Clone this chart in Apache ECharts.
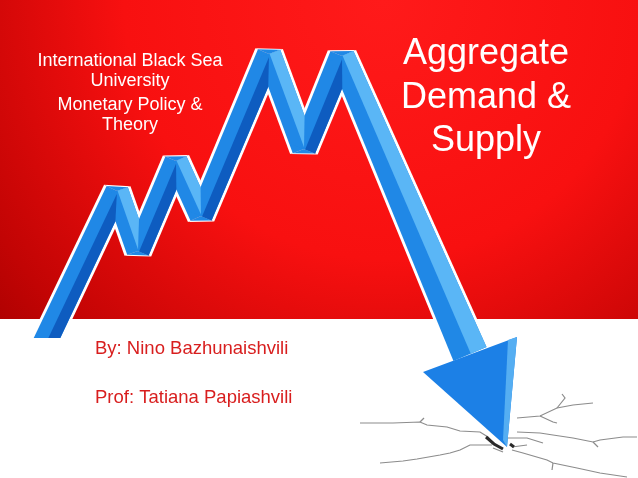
<!DOCTYPE html>
<html><head><meta charset="utf-8">
<script src="https://cdn.jsdelivr.net/npm/echarts@6/dist/echarts.min.js"></script>
<style>html,body{margin:0;padding:0;background:#fff;overflow:hidden}#c{width:638px;height:478px}</style>
</head><body><div id="c"></div>
<script>
// Zig-zag ribbon centre line (picture units: x to the right, y downward)
const pathX = [47, 117, 138, 176, 201, 269, 304, 342, 470];
const pathY = [338, 191, 251, 161, 216, 54, 149, 56, 354];
// Ribbon half-thickness at each vertex (blue part)
const halfW = [12, 11.5, 11.5, 11.5, 11.5, 12, 12, 12.5, 18];
// Arrow head triangle and its light right-hand face
const headX = [423, 517, 507];
const headY = [372, 337, 447];
const headFaceX = [508, 517, 507, 503];
const headFaceY = [340, 337, 447, 440];
// Red band extent
const bandX = [0, 638];
const bandY = [0, 319];
// Cracks in the ground
const crackLines = [
  [[360,423],[393,423],[420,422],[427,425],[447,427],[460,431],[480,432],[488,437],[493,443]],
  [[380,463],[403,461],[417,459],[440,455],[450,453],[460,450],[470,445],[480,445],[492,445]],
  [[517,418],[540,416],[557,408],[573,405],[593,403]],
  [[557,408],[565,398],[562,394]],
  [[540,416],[553,422],[557,423]],
  [[517,432],[540,433],[553,435],[573,438],[593,442],[600,440],[623,437],[637,437]],
  [[512,450],[523,453],[547,460],[553,463],[577,468],[600,473],[627,477]],
  [[553,463],[552,470]],
  [[507,438],[527,438],[543,443]],
  [[512,447],[527,445]],
  [[493,448],[503,452]],
  [[420,422],[424,418]],
  [[593,442],[598,447]]
];
const holeLines = [
  [[486,437],[494,444],[503,449]],
  [[510,444],[514,447]]
];
// Titles
const leftTitle = ['International Black Sea', 'University', 'Monetary Policy &', 'Theory'];
const leftTitleY = [61, 81, 105, 125];
const mainTitle = ['Aggregate', 'Demand &', 'Supply'];
const mainTitleY = [54, 98, 141];
const credits = ['By: Nino Bazhunaishvili', 'Prof: Tatiana Papiashvili'];
const creditsY = [349, 398];

const chart = echarts.init(document.getElementById('c'), null, {renderer: 'canvas'});
const FONT = '"Liberation Sans", Arial, sans-serif';

function dir(a, b) { const dx = b[0]-a[0], dy = b[1]-a[1]; const L = Math.hypot(dx, dy) || 1; return [dx/L, dy/L]; }
function nrm(d) { return [-d[1], d[0]]; }
function add(p, v, s) { return [p[0] + v[0]*s, p[1] + v[1]*s]; }
function miterAt(P, k, o) {
  const nA = nrm(dir(P[k-1], P[k]));
  const nB = nrm(dir(P[k], P[k+1]));
  let m = [nA[0]+nB[0], nA[1]+nB[1]]; const L = Math.hypot(m[0], m[1]) || 1; m = [m[0]/L, m[1]/L];
  const s = o / Math.max(0.2, (m[0]*nA[0] + m[1]*nA[1]));
  return add(P[k], m, s);
}
function pix(api) { return pathX.map((x, k) => api.coord([x, pathY[k]])); }
function scaleOf(api) { const a = api.coord([0, 0]), b = api.coord([100, 0]); return (b[0] - a[0]) / 100; }
// point on an edge (offset o along normal) where it crosses the horizontal through the start vertex
function flatStart(A, d, n, o) { const t = -n[1]*o / d[1]; return add(add(A, n, o), d, t); }

// Band (outline or fill) for one segment, with bevel join at its end
function bandItem(api, i, extra, color) {
  const P = pix(api), sc = scaleOf(api);
  const A = P[i], B = P[i+1];
  const d = dir(A, B), n = nrm(d);
  const ha = (halfW[i] + extra) * sc, hb = (halfW[i+1] + extra) * sc;
  const a1 = i === 0 ? flatStart(A, d, n, ha) : add(A, n, ha);
  const a2 = i === 0 ? flatStart(A, d, n, -ha) : add(A, n, -ha);
  const children = [{type: 'polygon', shape: {points: [a1, add(B, n, hb), add(B, n, -hb), a2]}, style: {fill: color}}];
  if (i + 2 < P.length) {
    const n2 = nrm(dir(B, P[i+2]));
    children.push({type: 'polygon', shape: {points: [B, add(B, n, hb), add(B, n2, hb)]}, style: {fill: color}});
    children.push({type: 'polygon', shape: {points: [B, add(B, n, -hb), add(B, n2, -hb)]}, style: {fill: color}});
  }
  return {type: 'group', children: children};
}

// 3D face strip on the screen-right side of one segment
function stripItem(api, i) {
  const P = pix(api), sc = scaleOf(api);
  const A = P[i], B = P[i+1];
  const d = dir(A, B), n = nrm(d);
  const sg = n[0] >= 0 ? 1 : -1;
  const rising = B[1] < A[1];
  const frac = rising ? 0.1 : 0.05;
  function endPt(k, o, isStart) {
    if (isStart && k === 0) return flatStart(P[0], d, n, sg * o);
    const nb = isStart ? dir(P[k], P[k-1]) : (k < P.length - 1 ? dir(P[k], P[k+1]) : null);
    if (nb && sg * (n[0]*nb[0] + n[1]*nb[1]) > 0) return miterAt(P, k, sg * o);
    return add(P[k], n, sg * o);
  }
  const pts = [
    endPt(i, halfW[i]*frac*sc, true), endPt(i+1, halfW[i+1]*frac*sc, false),
    endPt(i+1, halfW[i+1]*sc, false), endPt(i, halfW[i]*sc, true)
  ];
  return {type: 'polygon', shape: {points: pts}, style: {fill: rising ? '#0e5cc0' : '#5ab6f6'}};
}

const segData = pathX.slice(0, -1).map((x, i) => [x, pathY[i], pathX[i+1], pathY[i+1]]);

const graphics = [];
leftTitle.forEach((t, i) => graphics.push({type: 'text', x: 130, y: leftTitleY[i], z: 20,
  style: {text: t, fill: '#ffffff', font: '18px ' + FONT, textAlign: 'center', textVerticalAlign: 'middle'}}));
mainTitle.forEach((t, i) => graphics.push({type: 'text', x: 486, y: mainTitleY[i], z: 20,
  style: {text: t, fill: '#ffffff', font: '36px ' + FONT, textAlign: 'center', textVerticalAlign: 'middle'}}));
credits.forEach((t, i) => graphics.push({type: 'text', x: 95, y: creditsY[i], z: 20,
  style: {text: t, fill: '#d81e1e', font: '18.5px ' + FONT, textAlign: 'left', textVerticalAlign: 'middle'}}));

chart.setOption({
  backgroundColor: '#ffffff',
  animation: false,
  grid: {left: 0, right: 0, top: 0, bottom: 0},
  xAxis: {type: 'value', min: 0, max: 638, show: false},
  yAxis: {type: 'value', min: 0, max: 478, inverse: true, show: false},
  graphic: graphics,
  series: [
    {
      type: 'scatter', z: 0, data: [[bandX[0], bandY[0]]], symbolSize: 0, silent: true,
      markArea: {
        silent: true,
        itemStyle: {
          color: {type: 'radial', x: 0.6, y: 0.0, r: 1.8, colorStops: [
            {offset: 0, color: '#ff1a1a'}, {offset: 0.45, color: '#f81010'},
            {offset: 0.67, color: '#d40808'}, {offset: 0.78, color: '#c20404'}, {offset: 0.92, color: '#a60000'}]}
        },
        data: [[{xAxis: bandX[0], yAxis: bandY[0]}, {xAxis: bandX[1], yAxis: bandY[1]}]]
      }
    },
    {
      type: 'lines', coordinateSystem: 'cartesian2d', polyline: true, z: 1, silent: true,
      lineStyle: {color: '#8c8c8c', width: 1.2, opacity: 1},
      data: crackLines.map(c => ({coords: c}))
    },
    {
      type: 'lines', coordinateSystem: 'cartesian2d', polyline: true, z: 1, silent: true,
      lineStyle: {color: '#2a2a2a', width: 3, opacity: 1},
      data: holeLines.map(c => ({coords: c}))
    },
    {
      type: 'custom', z: 2, silent: true, data: segData, encode: {x: [0, 2], y: [1, 3]},
      renderItem: (params, api) => bandItem(api, params.dataIndex, 2.8, '#ffffff')
    },
    {
      type: 'custom', z: 3, silent: true, data: segData, encode: {x: [0, 2], y: [1, 3]},
      renderItem: (params, api) => bandItem(api, params.dataIndex, 0, '#2088e6')
    },
    {
      type: 'custom', z: 4, silent: true, data: segData, encode: {x: [0, 2], y: [1, 3]},
      renderItem: (params, api) => stripItem(api, params.dataIndex)
    },
    {
      type: 'custom', z: 5, silent: true, data: [[headX[0], headY[0]]],
      renderItem: function (params, api) {
        const head = headX.map((x, k) => api.coord([x, headY[k]]));
        const face = headFaceX.map((x, k) => api.coord([x, headFaceY[k]]));
        return {type: 'group', children: [
          {type: 'polygon', shape: {points: head}, style: {fill: '#1c80e6'}},
          {type: 'polygon', shape: {points: face}, style: {fill: '#55aef2'}}
        ]};
      }
    }
  ]
});
</script>
</body></html>
